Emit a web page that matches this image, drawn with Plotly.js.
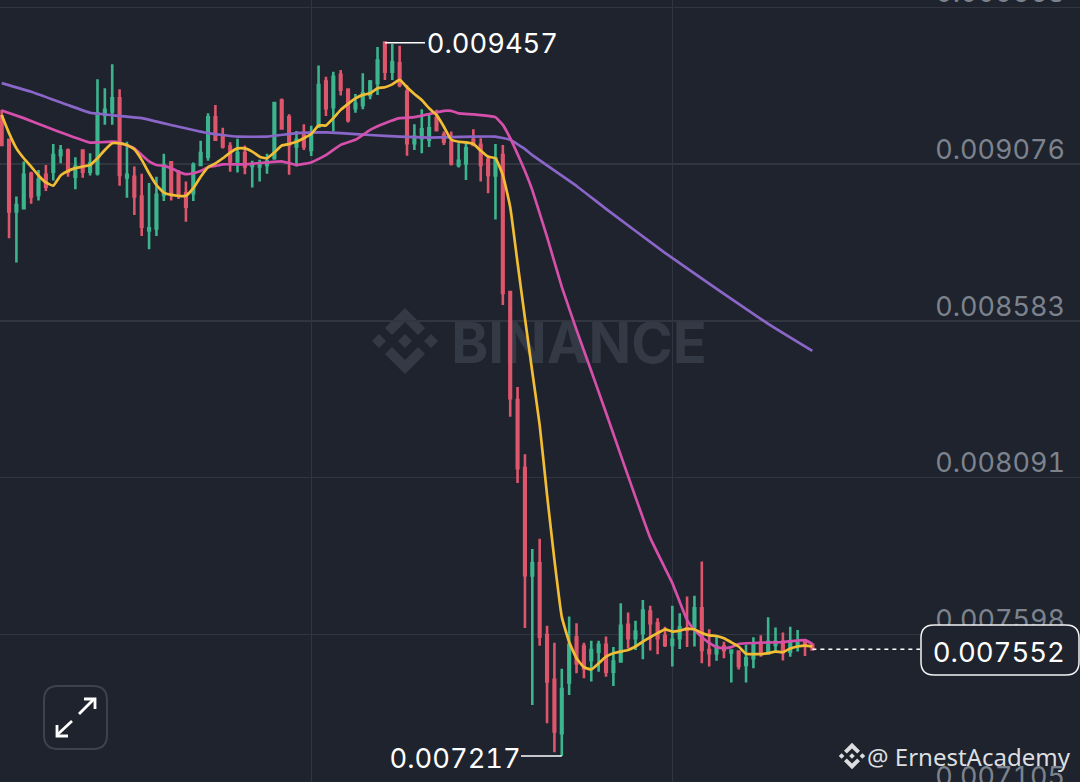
<!DOCTYPE html>
<html>
<head>
<meta charset="utf-8">
<script src="https://cdn.plot.ly/plotly-3.0.1.min.js"></script>
<style>
html,body{margin:0;padding:0;width:1080px;height:782px;overflow:hidden;background:#1e232d}
#chart{position:absolute;left:0;top:-40px;width:1080px;height:860px}
#chart text{font-variant-numeric:tabular-nums;font-feature-settings:'tnum' 1}
</style>
</head>
<body>
<div id="chart"></div>
<script>
// Prices are in millionths (0.009076 -> 9076)
const open = [9225,9152,8927,8937,9045,8979,9042,9052,9104,9118,9036,9118,9052,9047,9230,9241,9282,9034,9036,8974,8867,8874,8979,9081,9047,8984,8984,9073,9099,9223,9162,9131,9084,9110,9070,9068,9073,9094,9275,9223,9131,9173,9120,9193,9335,9254,9356,9309,9251,9261,9293,9330,9457,9366,9392,9303,9141,9157,9152,9220,9167,9146,9073,9078,9152,9136,9089,9040,9104,8674,8335,8121,7784,7822,7597,7456,7289,7448,7590,7561,7519,7545,7566,7482,7514,7629,7587,7603,7671,7634,7594,7566,7587,7618,7623,7681,7550,7540,7561,7542,7545,7503,7524,7566,7540,7566,7576,7545,7566,7576,7566];
const high = [9246,9152,8974,9084,9052,9057,9073,9139,9136,9125,9097,9118,9110,9342,9314,9389,9311,9146,9068,9045,9016,9036,9108,9084,9057,9021,9081,9149,9235,9261,9190,9144,9155,9134,9086,9089,9108,9269,9282,9232,9180,9201,9196,9385,9350,9366,9371,9314,9296,9361,9340,9443,9457,9453,9447,9324,9201,9248,9235,9246,9178,9178,9141,9146,9185,9157,9104,9139,9136,8674,8376,8165,7867,7899,7626,7573,7491,7655,7634,7573,7579,7579,7592,7559,7697,7668,7642,7707,7689,7650,7623,7689,7665,7718,7720,7828,7615,7592,7576,7550,7548,7566,7590,7596,7653,7621,7605,7623,7613,7584,7571];
const low = [9136,8843,8767,8935,8951,8961,8991,9024,9078,9036,8997,9033,9040,9040,9199,9199,9008,8970,8916,8850,8808,8850,8960,8961,8966,8895,8960,9070,9086,9152,9125,9052,9049,9044,9002,9021,9045,9089,9185,9042,9068,9120,9101,9193,9227,9178,9291,9206,9237,9248,9279,9293,9340,9340,9317,9102,9120,9110,9129,9178,9136,9071,9065,9026,9136,9021,8984,8902,8633,8282,8074,7619,7377,7563,7320,7229,7217,7409,7477,7461,7451,7482,7466,7437,7514,7555,7550,7521,7548,7537,7559,7498,7553,7559,7561,7508,7498,7516,7524,7448,7489,7448,7493,7529,7540,7545,7517,7529,7545,7531,7550];
const close = [9136,8927,8947,9042,8974,9026,9005,9104,9118,9052,9068,9052,9078,9235,9246,9282,9042,9042,8974,8879,8874,8979,9073,8984,8984,8942,9073,9110,9223,9152,9131,9084,9110,9068,9073,9078,9084,9267,9188,9136,9152,9131,9167,9324,9251,9350,9309,9214,9265,9298,9335,9401,9366,9395,9324,9141,9162,9185,9188,9183,9146,9078,9086,9125,9136,9073,9042,9094,8671,8341,8121,7785,7822,7592,7451,7294,7427,7566,7508,7493,7550,7566,7482,7514,7626,7587,7608,7674,7634,7587,7566,7582,7621,7613,7681,7550,7540,7561,7550,7548,7500,7524,7566,7540,7576,7576,7542,7571,7571,7566,7552];
const ma7 = [9230,9173,9125,9094,9068,9040,9018,9008,9040,9054,9063,9068,9073,9094,9120,9141,9141,9136,9122,9089,9047,9010,8986,8979,8976,8976,9000,9036,9066,9078,9094,9112,9125,9125,9115,9099,9094,9112,9134,9139,9146,9157,9170,9197,9197,9220,9246,9265,9282,9293,9298,9314,9317,9326,9340,9317,9296,9277,9251,9230,9193,9152,9146,9144,9139,9118,9099,9094,9041,8941,8765,8592,8423,8256,8037,7833,7654,7575,7524,7496,7489,7508,7529,7540,7545,7550,7561,7576,7590,7603,7615,7608,7611,7616,7615,7603,7596,7594,7587,7574,7561,7538,7537,7537,7540,7545,7543,7555,7561,7564,7561];
const ma25Idx = [0,3,6,9,12,13,15,16,18,19,20,21,22,23,24,25,26,27,28,29,30,33,36,38,40,42,44,46,48,50,52,54,56,58,60,61,62,64,66,67,68,69,70,71,72,74,76,78,80,82,84,86,88,90,91,92,93,94,95,96,97,98,99,100,102,106,109,110];
const ma25 = [9244,9220,9193,9167,9143,9144,9146,9143,9125,9104,9084,9073,9070,9063,9052,9044,9047,9054,9066,9070,9075,9075,9081,9084,9073,9081,9104,9136,9152,9183,9204,9220,9223,9233,9243,9243,9235,9232,9227,9223,9199,9157,9107,9054,8994,8847,8690,8555,8426,8295,8162,8030,7902,7807,7760,7701,7644,7613,7591,7572,7559,7556,7559,7569,7572,7575,7581,7569];
const ma99Idx = [0,4,9,12,16,19,24,28,32,36,40,44,46,50,54,58,64,67,69,71,72,78,82,90,98,104,110];
const ma99 = [9330,9303,9261,9237,9227,9220,9193,9173,9162,9162,9173,9175,9173,9167,9162,9159,9162,9162,9152,9123,9104,9007,8935,8797,8668,8574,8489];
const priceTicks = [9568,9076,8583,8091,7598,7105];
const priceLabels = ['0.009568','0.009076','0.008583','0.008091','0.007598','0.007105'];
const timeGrid = [42,91];
const lastPrice = 7552, maxPrice = 9457, minPrice = 7217;
const maxIdx = 52, minIdx = 76;

const FONT = 'Inter, "Open Sans", sans-serif';
const BG = '#1e232d', RED = '#de566c', GREEN = '#3cb48e';
const idx = open.map((_, i) => i);
const W = 1080, H = 860, OFF = 40;
const pxX = x => x / W;
const pxY = y => 1 - (y + OFF) / H;
const idxAt = x => (x - 1.67) / 7.37;

function poly(pts, cx, cy, s) {
  return 'M' + pts.map(p => pxX(cx + p[0] * s) + ',' + pxY(cy + p[1] * s)).join('L') + 'Z';
}
const top_ = [[0,-33],[20,-13],[13,-6],[0,-19],[-13,-6],[-20,-13]];
const bot_ = top_.map(p => [p[0], -p[1]]);
const dia = (cx, h) => [[cx,-h],[cx+h,0],[cx,h],[cx-h,0]];
function logo(cx, cy, s, color, layer) {
  return [top_, bot_, dia(0,7), dia(-26,7), dia(26,7)].map(pts => ({
    type:'path', xref:'paper', yref:'paper', layer, path:poly(pts,cx,cy,s), fillcolor:color, line:{width:0}
  }));
}
function rrect(x0,y0,x1,y1,r) {
  const P = (x,y) => pxX(x)+','+pxY(y);
  return 'M'+P(x0+r,y0)+'L'+P(x1-r,y0)+'Q'+P(x1,y0)+' '+P(x1,y0+r)+'L'+P(x1,y1-r)+'Q'+P(x1,y1)+' '+P(x1-r,y1)+
         'L'+P(x0+r,y1)+'Q'+P(x0,y1)+' '+P(x0,y1-r)+'L'+P(x0,y0+r)+'Q'+P(x0,y0)+' '+P(x0+r,y0)+'Z';
}
function seg(pts, w, color) {
  return {type:'path', xref:'paper', yref:'paper', layer:'above',
    path:'M'+pts.map(p=>pxX(p[0])+','+pxY(p[1])).join('L'), line:{color, width:w}, fillcolor:'rgba(0,0,0,0)'};
}

const shapes = [
  ...logo(405,341,1,'#343a45','below'),
  {type:'rect', xref:'paper', yref:'paper', layer:'below', x0:pxX(452), x1:pxX(706), y0:pxY(362), y1:pxY(320),
   line:{width:0}, fillcolor:'rgba(0,0,0,0)',
   label:{text:'BINANCE', textposition:'middle center', font:{family:FONT, size:56, weight:700, color:'#343a45'}}},
  {type:'line', xref:'x', yref:'y', x0:maxIdx, x1:idxAt(425), y0:maxPrice, y1:maxPrice, line:{color:'#ffffff', width:1.5}},
  {type:'line', xref:'x', yref:'y', x0:minIdx, x1:idxAt(521), y0:minPrice, y1:minPrice, line:{color:'#ffffff', width:1.5}},
  {type:'line', xref:'x', yref:'y', x0:open.length-1, x1:idxAt(920), y0:lastPrice, y1:lastPrice, line:{color:'#ffffff', width:1.5, dash:'4px,4px'}},
  {type:'path', xref:'paper', yref:'paper', layer:'above', path:rrect(921,625,1079,675,13), fillcolor:BG, line:{color:'#f2f3f4', width:1.5}},
  {type:'path', xref:'paper', yref:'paper', layer:'above', path:rrect(44,686,107,749,14), fillcolor:'rgba(0,0,0,0)', line:{color:'#3d434e', width:2}},
  seg([[79,714],[94,699]],2.8,'#ffffff'), seg([[84,699],[95,699],[95,709]],2.8,'#ffffff'),
  seg([[72,721],[57,735]],2.8,'#ffffff'), seg([[57,725],[57,736],[68,736]],2.8,'#ffffff'),
  ...logo(852,756,0.4,'#dcdee0','above')
];

const ann = (text,x,y,anchor,size,color,family) => ({text, xref:'paper', yref:'paper', x:pxX(x), y:pxY(y), xanchor:anchor, yanchor:'middle',
  showarrow:false, font:{family:family||FONT, size, color}});

const annotations = [
  {text:'0.009457', xref:'x', yref:'y', x:idxAt(428), y:maxPrice, yshift:-1, xanchor:'left', yanchor:'middle', showarrow:false, font:{family:FONT,size:27.3,color:'#ffffff'}},
  {text:'0.007217', xref:'x', yref:'y', x:idxAt(515), y:minPrice, yshift:-2, xanchor:'right', yanchor:'middle', showarrow:false, font:{family:FONT,size:27.3,color:'#ffffff'}},
  ann('0.007552',1063,652,'right',27.5,'#ffffff'),
  ann('@ ErnestAcademy',1073,756,'right',24,'#dcdee0','"Noto Sans"')
];

const traces = [
  {type:'candlestick', x:idx, open, high, low, close, whiskerwidth:0, hoverinfo:'skip',
   increasing:{line:{color:GREEN,width:2.6}, fillcolor:GREEN},
   decreasing:{line:{color:RED,width:2.6}, fillcolor:RED}, showlegend:false},
  {type:'scatter', mode:'lines', x:ma99Idx, y:ma99, line:{color:'#8a66c9',width:2.7,shape:'spline',smoothing:0.3}, hoverinfo:'skip', showlegend:false},
  {type:'scatter', mode:'lines', x:ma25Idx, y:ma25, line:{color:'#d650ab',width:2.7,shape:'spline',smoothing:0.3}, hoverinfo:'skip', showlegend:false},
  {type:'scatter', mode:'lines', x:idx, y:ma7, line:{color:'#f2bd35',width:2.7,shape:'spline',smoothing:0.4}, hoverinfo:'skip', showlegend:false},
  {type:'scatter', mode:'lines', x:[], y:[], yaxis:'y2', hoverinfo:'skip', showlegend:false}
];

const priceRange = [9076-(820-164)*3.14, 9076+(164+40)*3.14];
const labelDrop = 4 * 3.14;
const layout = {
  width:W, height:H, margin:{l:0,r:0,t:0,b:0}, paper_bgcolor:BG, plot_bgcolor:BG, showlegend:false, boxgap:0.7,
  xaxis:{type:'linear', range:[idxAt(0), idxAt(1080)], tickmode:'array', tickvals:timeGrid, showticklabels:false, ticks:'',
    showgrid:true, gridcolor:'#30353f', gridwidth:1.4, zeroline:false, showline:false, fixedrange:true, rangeslider:{visible:false}},
  yaxis:{type:'linear', side:'right', range:priceRange, tickmode:'array', tickvals:priceTicks, showticklabels:false, ticks:'',
    showgrid:true, gridcolor:'#30353f', gridwidth:1.4, zeroline:false, showline:false, fixedrange:true},
  yaxis2:{type:'linear', overlaying:'y', side:'right', range:[priceRange[0]+labelDrop, priceRange[1]+labelDrop], tickmode:'array', tickvals:priceTicks, ticktext:priceLabels,
    ticklabelposition:'inside top', ticklabelstandoff:12, tickfont:{family:FONT,size:27,color:'#7d838e'}, ticks:'',
    showgrid:false, zeroline:false, showline:false, fixedrange:true},
  shapes, annotations
};
Plotly.newPlot('chart', traces, layout, {displayModeBar:false, staticPlot:true});
</script>
</body>
</html>
